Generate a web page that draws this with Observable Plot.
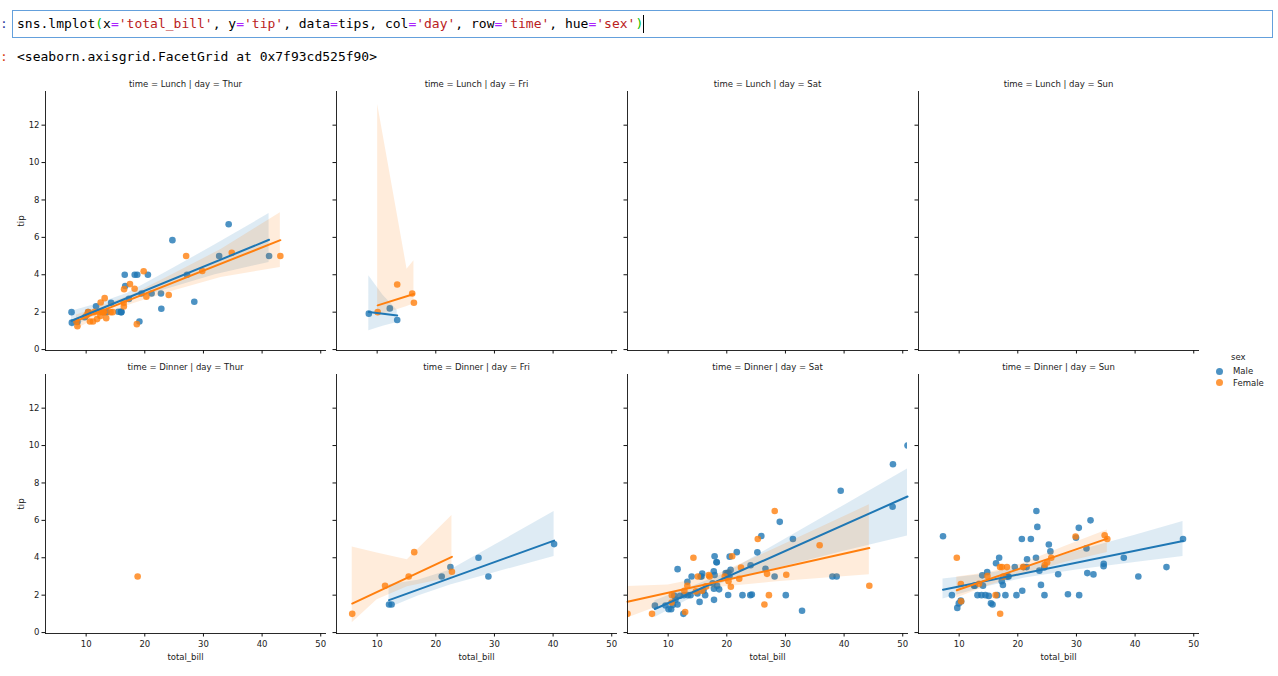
<!DOCTYPE html>
<html>
<head>
<meta charset="utf-8">
<script src="https://cdn.jsdelivr.net/npm/d3@7"></script>
<script src="https://cdn.jsdelivr.net/npm/@observablehq/plot@0.6"></script>
<style>
  html, body { margin: 0; padding: 0; background: #fff; }
  body { width: 1278px; height: 676px; position: relative; overflow: hidden; font-family: "DejaVu Sans", sans-serif; }
  #chart { position: absolute; left: 0; top: 0; }
  .prompt { position: absolute; left: 0px; font: 13px "DejaVu Sans Mono", monospace; line-height: 16px; }
  .cell { position: absolute; left: 12px; top: 10px; width: 1255px; height: 26px; border: 1px solid #64a0dc; padding-left: 4px;
          font: 13px "DejaVu Sans Mono", monospace; line-height: 26px; white-space: pre; color: #000; background: #fff; }
  .str { color: #ba2121; } .op { color: #aa22ff; } .br { color: #00bb00; }
  .cursor { position: absolute; left: 643px; top: 15px; width: 1px; height: 18px; background: #000; }
  .out { position: absolute; left: 17px; top: 49px; font: 13px "DejaVu Sans Mono", monospace; line-height: 16px; white-space: pre; color: #000; }
  .lg { position: absolute; font: 8.5px "DejaVu Sans", sans-serif; line-height: 10px; color: #222; white-space: nowrap; }
  .sw { position: absolute; width: 7px; height: 7px; border-radius: 50%; opacity: 0.8; }
</style>
</head>
<body>
<div id="chart"></div>
<div class="prompt" style="top:16px;color:#303f9f">:</div>
<div class="cell">sns.lmplot<span class="br">(</span>x<span class="op">=</span><span class="str">'total_bill'</span>, y<span class="op">=</span><span class="str">'tip'</span>, data<span class="op">=</span>tips, col<span class="op">=</span><span class="str">'day'</span>, row<span class="op">=</span><span class="str">'time'</span>, hue<span class="op">=</span><span class="str">'sex'</span><span class="br">)</span></div>
<div class="cursor"></div>
<div class="prompt" style="top:49px;color:#d84315">:</div>
<div class="out">&lt;seaborn.axisgrid.FacetGrid at 0x7f93cd525f90&gt;</div>
<div id="legend"></div>
<script>
// ---------- categories & ticks ----------
const days = ["Thur", "Fri", "Sat", "Sun"];
const times = ["Lunch", "Dinner"];
const sexes = ["Male", "Female"];
const sexColors = ["#1f77b4", "#ff7f0e"];
const xTicks = [10, 20, 30, 40, 50];
const yTicks = [0, 2, 4, 6, 8, 10, 12];
const xLabel = "total_bill";
const yLabel = "tip";
const legendTitle = "sex";

// ---------- observations [total_bill, tip] ----------
const lunchThurMale = [[27.2,4.0],[22.76,3.0],[17.29,2.71],[19.44,3.0],[16.66,3.4],[32.68,5.0],[15.98,2.03],[13.03,2.0],[18.28,4.0],[24.71,5.85],[21.16,3.0],[11.69,2.31],[14.26,2.5],[15.95,2.0],[8.52,1.48],[22.82,2.18],[19.08,1.5],[16.0,2.0],[34.3,6.7],[41.19,5.0],[9.78,1.73],[7.51,2.0],[28.44,2.56],[15.48,2.02],[16.58,4.0],[7.56,1.44],[10.34,2.0],[13.51,2.0],[18.71,4.0],[20.53,4.0]];
const lunchThurFemale = [[10.07,1.83],[34.83,5.17],[10.65,1.5],[12.43,1.8],[24.08,2.92],[13.42,1.68],[12.48,2.52],[29.8,4.2],[14.52,2.0],[11.38,2.0],[20.27,2.83],[11.17,1.5],[12.26,2.0],[18.26,3.25],[8.51,1.25],[10.33,2.0],[14.15,2.0],[13.16,2.75],[17.47,3.5],[27.05,5.0],[16.43,2.3],[8.35,1.5],[18.64,1.36],[11.87,1.63],[19.81,4.19],[43.11,5.0],[13.0,2.0],[12.74,2.01],[13.0,2.0],[16.4,2.5],[16.47,3.23]];
const lunchFriMale = [[12.16,2.2],[8.58,1.92],[13.42,1.58]];
const lunchFriFemale = [[13.42,3.48],[15.98,3.0],[16.27,2.5],[10.09,2.0]];
const dinnerThurFemale = [[18.78,3.0]];
const dinnerFriMale = [[28.97,3.0],[22.49,3.5],[40.17,4.73],[27.28,4.0],[12.03,1.5],[21.01,3.0],[12.46,1.5]];
const dinnerFriFemale = [[5.75,1.0],[16.32,4.3],[22.75,3.25],[11.35,2.5],[15.38,3.0]];
const dinnerSatMale = [[20.65,3.35],[17.92,4.08],[39.42,7.58],[19.82,3.18],[17.81,2.34],[13.37,2.0],[12.69,2.0],[21.7,4.3],[9.55,1.45],[18.35,2.5],[17.78,3.27],[24.06,3.6],[16.31,2.0],[18.69,2.31],[31.27,5.0],[16.04,2.24],[38.01,3.0],[11.24,1.76],[48.27,6.73],[20.29,3.21],[13.81,2.0],[11.02,1.98],[18.29,3.76],[17.59,2.64],[20.08,3.15],[20.23,2.01],[15.01,2.09],[12.02,1.97],[10.51,1.25],[17.92,3.08],[15.36,1.64],[20.49,4.06],[25.21,4.29],[18.24,3.76],[14.0,3.0],[50.81,10.0],[15.81,3.16],[26.59,3.41],[38.73,3.0],[24.27,2.03],[30.06,2.0],[25.89,5.16],[48.33,9.0],[28.15,3.0],[11.59,1.5],[7.74,1.44],[20.45,3.0],[13.28,2.72],[24.01,2.0],[15.69,3.0],[11.61,3.39],[10.77,1.47],[15.53,3.0],[10.07,1.25],[12.6,1.0],[32.83,1.17],[29.03,5.92],[22.67,2.0],[17.82,1.75]];
const dinnerSatFemale = [[20.29,2.75],[15.77,2.23],[19.65,3.0],[15.06,3.0],[20.69,2.45],[16.93,3.07],[26.41,1.5],[16.45,2.47],[3.07,1.0],[17.07,3.0],[26.86,3.14],[25.28,5.0],[14.73,2.2],[44.3,2.5],[22.42,3.48],[20.92,4.08],[14.31,4.0],[7.25,1.0],[10.59,1.61],[10.63,2.0],[12.76,2.23],[13.27,2.5],[28.17,6.5],[12.9,1.1],[30.14,3.09],[22.12,2.88],[35.83,4.67],[27.18,2.0]];
const dinnerSunMale = [[10.34,1.66],[21.01,3.5],[23.68,3.31],[25.29,4.71],[8.77,2.0],[26.88,3.12],[15.04,1.96],[14.78,3.23],[10.27,1.71],[15.42,1.57],[18.43,3.0],[21.58,3.92],[16.29,3.71],[17.46,2.54],[13.94,3.06],[9.68,1.32],[30.4,5.6],[18.29,3.0],[22.23,5.0],[32.4,6.0],[28.55,2.05],[18.04,3.0],[12.54,2.5],[9.94,1.56],[25.56,4.34],[19.49,3.51],[38.07,4.0],[23.95,2.55],[29.93,5.07],[14.07,2.5],[13.13,2.0],[17.26,2.74],[24.55,2.0],[19.77,2.0],[48.17,5.0],[16.49,2.0],[21.5,3.5],[12.66,2.5],[13.81,2.0],[24.52,3.48],[20.76,2.24],[31.71,4.5],[7.25,5.15],[31.85,3.18],[16.82,4.0],[32.9,3.11],[17.89,2.0],[14.48,2.0],[34.63,3.55],[34.65,3.68],[23.33,5.65],[45.35,3.5],[23.17,6.5],[40.55,3.0],[20.69,5.0],[30.46,2.0],[23.1,4.0],[15.69,1.5]];
const dinnerSunFemale = [[16.99,1.01],[24.59,3.61],[35.26,5.0],[14.83,3.02],[10.33,1.67],[16.97,3.5],[10.29,2.6],[34.81,5.2],[25.71,4.0],[17.31,3.5],[29.85,5.14],[25.0,3.75],[13.39,2.61],[16.21,2.0],[17.51,3.0],[9.6,4.0],[20.9,3.5],[18.15,3.5]];

// ---------- confidence bands [total_bill, low, high] ----------
const bandLunchThurMale = [[7.51,1.15,2.05],[12,1.9,2.45],[17,2.6,3.0],[24,3.25,4.2],[32,4.0,5.6],[41.19,4.66,7.27]];
const bandLunchThurFemale = [[8.35,1.1,1.85],[13,1.85,2.35],[18,2.45,2.95],[25,3.15,4.05],[33,3.85,5.35],[43.11,4.39,7.32]];
const bandLunchFriMale = [[8.58,1.0,3.95],[11,1.25,2.9],[13.42,1.45,2.1]];
const bandLunchFriFemale = [[10.09,1.8,13.1],[15.1,2.3,4.3],[16.27,2.45,4.75]];
const bandDinnerFriMale = [[12.03,1.31,2.56],[17,1.95,2.8],[22.5,2.55,3.35],[30,3.2,4.67],[40.17,4.07,6.47]];
const bandDinnerFriFemale = [[5.75,0.52,4.57],[10,1.75,4.26],[15.15,2.45,3.89],[22.75,2.95,6.26]];
const bandDinnerSatMale = [[7.74,0.8,1.7],[14,1.85,2.45],[20,2.75,3.2],[30,3.55,5.0],[40,4.35,6.8],[50.81,5.17,8.75]];
const bandDinnerSatFemale = [[3.07,0.78,2.47],[10,1.6,2.55],[18,2.4,3.05],[28,2.7,4.45],[44.3,3.09,6.83]];
const bandDinnerSunMale = [[7.25,1.8,2.86],[14,2.4,3.1],[21,2.9,3.5],[30,3.35,4.35],[40,3.75,5.2],[48.17,4.07,5.94]];
const bandDinnerSunFemale = [[9.6,1.85,2.97],[15,2.5,3.2],[21,3.1,3.7],[28,3.75,4.6],[35.26,4.28,5.49]];

// ---------- table of series ----------
const series = [
  ["Thur", "Lunch", "Male", lunchThurMale, bandLunchThurMale],
  ["Thur", "Lunch", "Female", lunchThurFemale, bandLunchThurFemale],
  ["Fri", "Lunch", "Male", lunchFriMale, bandLunchFriMale],
  ["Fri", "Lunch", "Female", lunchFriFemale, bandLunchFriFemale],
  ["Thur", "Dinner", "Female", dinnerThurFemale, null],
  ["Fri", "Dinner", "Male", dinnerFriMale, bandDinnerFriMale],
  ["Fri", "Dinner", "Female", dinnerFriFemale, bandDinnerFriFemale],
  ["Sat", "Dinner", "Male", dinnerSatMale, bandDinnerSatMale],
  ["Sat", "Dinner", "Female", dinnerSatFemale, bandDinnerSatFemale],
  ["Sun", "Dinner", "Male", dinnerSunMale, bandDinnerSunMale],
  ["Sun", "Dinner", "Female", dinnerSunFemale, bandDinnerSunFemale]
];

const points = series.flatMap(([day, time, sex, pts]) =>
  pts.map(([total_bill, tip]) => ({day, time, sex, total_bill, tip, n: pts.length})));
const bands = series.filter(s => s[4]).flatMap(([day, time, sex, , band]) =>
  band.map(([x, lo, hi]) => ({day, time, sex, x, lo, hi, key: day + time + sex})));
const panels = times.flatMap(time => days.map(day => ({day, time})));

const ptsOf = sex => points.filter(d => d.sex === sex);
const fitOf = sex => points.filter(d => d.sex === sex && d.n > 1);
const bandOf = sex => bands.filter(d => d.sex === sex);

const F = {fx: "day", fy: "time"};
const dotOpts = {x: "total_bill", y: "tip", fill: "sex", r: 3.3, fillOpacity: 0.8, clip: true, ...F};
const bandOpts = {x: "x", y1: "lo", y2: "hi", fill: "sex", z: "key", fillOpacity: 0.15, curve: "linear", clip: true, ...F};
const fitOpts = {x: "total_bill", y: "tip", stroke: "sex", ci: 0, strokeWidth: 2, ...F};
const ink = "#222";

const chart = Plot.plot({
  width: 1278,
  height: 676,
  marginLeft: 44.3,
  marginRight: 79,
  marginTop: 90,
  marginBottom: 42,
  style: {fontFamily: "DejaVu Sans", fontSize: "8.5px", background: "transparent", color: ink},
  fx: {domain: days, paddingInner: 0.0374, paddingOuter: 0, axis: null, label: null},
  fy: {domain: times, paddingInner: 0.0845, paddingOuter: 0, axis: null, label: null},
  x: {domain: [3.07, 50.81], label: null},
  y: {domain: [-0.05, 13.8], label: null},
  color: {domain: sexes, range: sexColors},
  marks: [
    Plot.dot(ptsOf("Male"), dotOpts),
    Plot.areaY(bandOf("Male"), bandOpts),
    Plot.dot(ptsOf("Female"), dotOpts),
    Plot.areaY(bandOf("Female"), bandOpts),
    Plot.linearRegressionY(fitOf("Male"), fitOpts),
    Plot.linearRegressionY(fitOf("Female"), fitOpts),
    Plot.frame({anchor: "left", stroke: "#111", strokeWidth: 0.9}),
    Plot.frame({anchor: "bottom", stroke: "#111", strokeWidth: 0.9}),
    Plot.axisX({ticks: xTicks, tickSize: 3.5, fill: "none", stroke: "#111", facetAnchor: null, label: null}),
    Plot.axisY({ticks: yTicks, tickSize: 3.5, fill: "none", stroke: "#111", facetAnchor: null, label: null}),
    Plot.axisX({ticks: xTicks, tickSize: 0, tickPadding: 7, fill: ink, facetAnchor: "bottom", label: null, fontSize: 8.5}),
    Plot.axisY({ticks: yTicks, tickSize: 0, tickPadding: 6, fill: ink, facetAnchor: "left", label: null, fontSize: 8.5}),
    Plot.text(panels, {...F, text: d => `time = ${d.time} | day = ${d.day}`, frameAnchor: "top", lineAnchor: "middle", dy: -7, fontSize: 8.5, fill: ink}),
    Plot.text(panels.filter(d => d.time === "Dinner"), {...F, text: () => xLabel, frameAnchor: "bottom", lineAnchor: "middle", dy: 24, fontSize: 8.5, fill: ink}),
    Plot.text(panels.filter(d => d.day === "Thur"), {...F, text: () => yLabel, frameAnchor: "left", textAnchor: "middle", lineAnchor: "middle", dx: -24, rotate: -90, fontSize: 8.5, fill: ink})
  ]
});
document.getElementById("chart").appendChild(chart);

// ---------- legend ----------
const lg = document.getElementById("legend");
const t = document.createElement("div");
t.className = "lg"; t.textContent = legendTitle;
t.style.left = "1231px"; t.style.top = "352px";
lg.appendChild(t);
sexes.forEach((s, i) => {
  const sw = document.createElement("div");
  sw.className = "sw"; sw.style.background = sexColors[i];
  sw.style.left = "1216px"; sw.style.top = (367.5 + i * 11.7) + "px";
  lg.appendChild(sw);
  const tx = document.createElement("div");
  tx.className = "lg"; tx.textContent = s;
  tx.style.left = "1233px"; tx.style.top = (366 + i * 11.7) + "px";
  lg.appendChild(tx);
});
</script>
</body>
</html>
